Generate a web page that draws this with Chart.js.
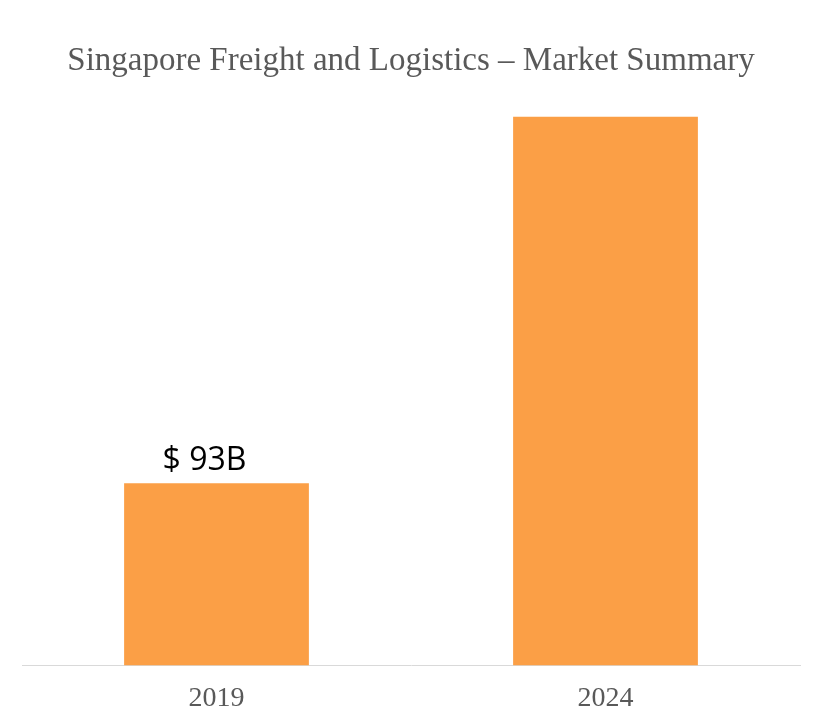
<!DOCTYPE html>
<html><head><meta charset="utf-8">
<script src="https://cdn.jsdelivr.net/npm/chart.js@4"></script>
<style>html,body{margin:0;padding:0;background:#fff}#wrap{width:824px;height:723px}</style>
</head><body><div id="wrap"><canvas id="c" width="824" height="723"></canvas></div>
<script>
const categories = ["2019", "2024"];
const values = [93, 280];
const valueLabels = ["$ 93B", ""];
const labelPlugin = {
  id: 'vlabels',
  afterDatasetsDraw(chart) {
    const ctx = chart.ctx;
    chart.getDatasetMeta(0).data.forEach((bar, i) => {
      if (!valueLabels[i]) return;
      ctx.save();
      ctx.font = '32px "Open Sans", "Liberation Sans", sans-serif';
      ctx.fillStyle = '#000';
      ctx.textAlign = 'center';
      ctx.textBaseline = 'bottom';
      ctx.fillText(valueLabels[i], bar.x - 12, bar.y - 6);
      ctx.restore();
    });
  }
};
new Chart(document.getElementById('c'), {
  type: 'bar',
  data: { labels: categories, datasets: [{ data: values, backgroundColor: '#FB9F46', barPercentage: 0.95, categoryPercentage: 0.5 }] },
  options: {
    responsive: false, animation: false,
    layout: { padding: { left: 22, right: 24, bottom: 0, top: 0 } },
    plugins: {
      legend: { display: false }, tooltip: { enabled: false },
      title: { display: true, text: 'Singapore Freight and Logistics – Market Summary', color: '#595959',
        font: { family: '"Liberation Serif", "Times New Roman", serif', size: 33, weight: 'normal' },
        padding: { top: 42, bottom: 0 } }
    },
    scales: {
      x: { grid: { display: false }, border: { color: '#d9d9d9', width: 1 },
        ticks: { color: '#595959', padding: 8, font: { family: '"Liberation Serif", serif', size: 28 } } },
      y: { display: false, min: 0, max: 298 }
    }
  },
  plugins: [labelPlugin]
});
</script></body></html>
